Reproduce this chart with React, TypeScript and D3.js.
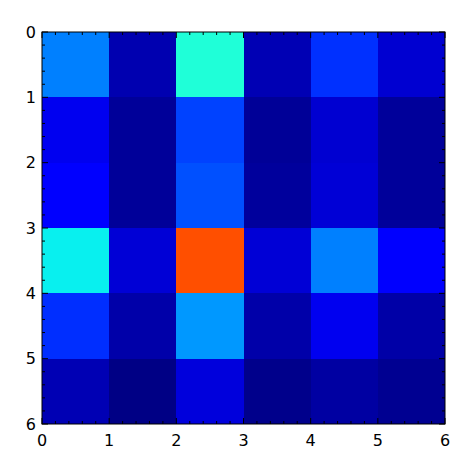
import React from "react";
import * as d3 from "d3";

const rowLabels = [0, 1, 2, 3, 4, 5];
const colLabels = [0, 1, 2, 3, 4, 5];
const tickValues = [0, 1, 2, 3, 4, 5, 6];

// normalised values (jet colormap position) row by row
const row0 = [0.25, 0.042, 0.388, 0.045, 0.172, 0.07];
const row1 = [0.097, 0.022, 0.19, 0.02, 0.07, 0.023];
const row2 = [0.11, 0.022, 0.203, 0.025, 0.075, 0.023];
const row3 = [0.36, 0.075, 0.826, 0.075, 0.25, 0.112];
const row4 = [0.17, 0.036, 0.274, 0.036, 0.097, 0.034];
const row5 = [0.045, 0.005, 0.08, 0.01, 0.03, 0.015];
const rows = [row0, row1, row2, row3, row4, row5];

function seg(pts: number[][], x: number) {
  for (let i = 1; i < pts.length; i++) {
    if (x <= pts[i][0]) {
      const [x0, y0] = pts[i - 1];
      const [x1, y1] = pts[i];
      return y0 + ((x - x0) / (x1 - x0)) * (y1 - y0);
    }
  }
  return pts[pts.length - 1][1];
}
const R = [[0, 0], [0.35, 0], [0.66, 1], [0.89, 1], [1, 0.5]];
const G = [[0, 0], [0.125, 0], [0.375, 1], [0.64, 1], [0.91, 0], [1, 0]];
const B = [[0, 0.5], [0.11, 1], [0.34, 1], [0.65, 0], [1, 0]];
function jet(v: number) {
  const x = Math.max(0, Math.min(1, v));
  return d3.rgb(seg(R, x) * 255, seg(G, x) * 255, seg(B, x) * 255).toString();
}

export default function App() {
  const W = 474, H = 474;
  const left = 42, top = 32, right = 445, bottom = 424;
  const x = d3.scaleLinear().domain([0, 6]).range([left, right]);
  const y = d3.scaleLinear().domain([0, 6]).range([top, bottom]);
  const minor = d3.range(0, 30).map((i) => i / 5).filter((v) => Math.abs(v - Math.round(v)) > 1e-6);
  const font = "DejaVu Sans, sans-serif";
  return (
    <svg width={W} height={H} style={{ position: "absolute", left: 0, top: 0, background: "#fff" }}>
      {rows.map((r, ri) =>
        r.map((v, ci) => (
          <rect
            key={`${ri}-${ci}`}
            x={x(colLabels[ci])}
            y={y(rowLabels[ri])}
            width={x(colLabels[ci] + 1) - x(colLabels[ci])}
            height={y(rowLabels[ri] + 1) - y(rowLabels[ri])}
            fill={jet(v)}
            shapeRendering="crispEdges"
          />
        ))
      )}
      <g stroke="#000" strokeWidth={1}>
        {tickValues.map((t) => (
          <g key={"M" + t}>
            <line x1={x(t)} x2={x(t)} y1={top} y2={top + 6} />
            <line x1={x(t)} x2={x(t)} y1={bottom} y2={bottom - 6} />
            <line x1={left} x2={left + 6} y1={y(t)} y2={y(t)} />
            <line x1={right} x2={right - 6} y1={y(t)} y2={y(t)} />
          </g>
        ))}
        {minor.map((t) => (
          <g key={"m" + t}>
            <line x1={x(t)} x2={x(t)} y1={top} y2={top + 3} />
            <line x1={x(t)} x2={x(t)} y1={bottom} y2={bottom - 3} />
            <line x1={left} x2={left + 3} y1={y(t)} y2={y(t)} />
            <line x1={right} x2={right - 3} y1={y(t)} y2={y(t)} />
          </g>
        ))}
      </g>
      <rect x={left} y={top} width={right - left} height={bottom - top} fill="none" stroke="#000" strokeWidth={1} />
      {tickValues.map((t) => (
        <text key={"xl" + t} x={x(t)} y={bottom + 22} textAnchor="middle" fontFamily={font} fontSize={16} fill="#000">
          {t}
        </text>
      ))}
      {tickValues.map((t) => (
        <text key={"yl" + t} x={left - 6} y={y(t)} dy="0.35em" textAnchor="end" fontFamily={font} fontSize={16} fill="#000">
          {t}
        </text>
      ))}
    </svg>
  );
}
